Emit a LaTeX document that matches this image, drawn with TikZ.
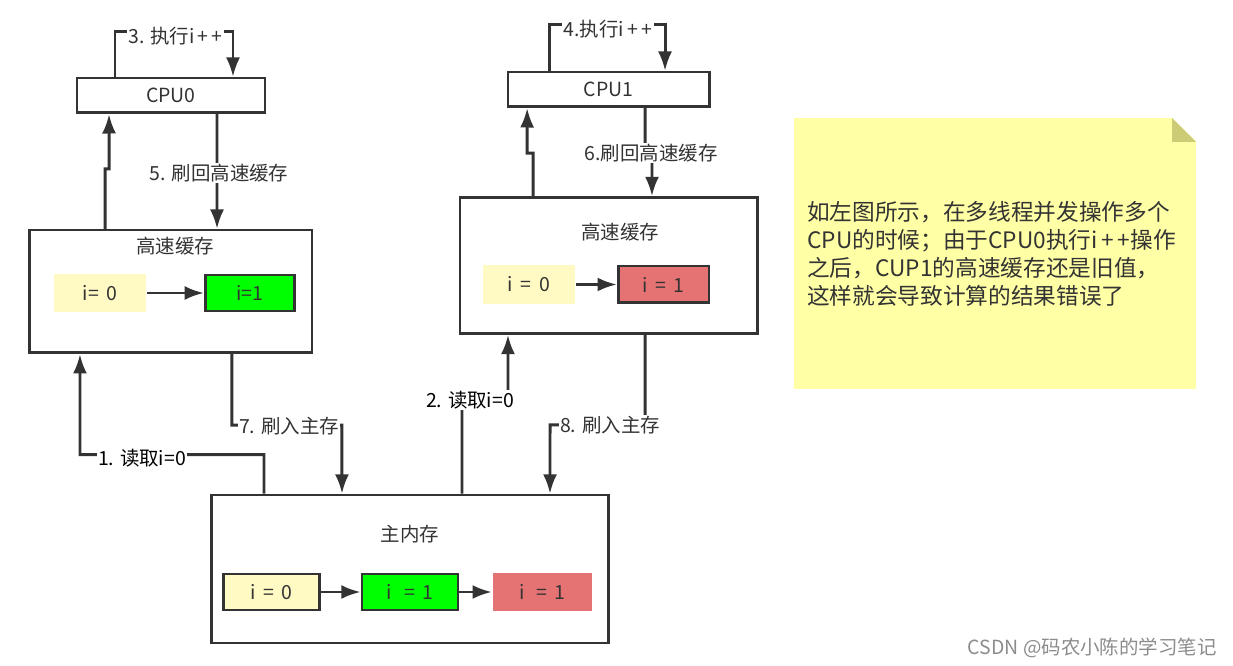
\documentclass[tikz,border=0pt]{standalone}
\usepackage{fontspec}
\setmainfont{Noto Sans CJK SC}
\usetikzlibrary{arrows.meta}
\definecolor{linegray}{HTML}{333333}
\definecolor{paleyellow}{HTML}{FFF9C4}
\definecolor{brightgreen}{HTML}{00FF00}
\definecolor{softred}{HTML}{E57373}
\definecolor{notefill}{HTML}{FFFFA6}
\definecolor{notefold}{HTML}{CCCC77}
\begin{document}
\begin{tikzpicture}[x=0.75pt,y=-0.75pt]
\tikzset{edge/.style = {-{Latex[length=14.5pt,width=10.5pt]}, line width=2.2pt, draw=linegray}}
\tikzset{box/.style = {shape=rectangle, draw=linegray, line width=2pt, text=linegray, font=\fontsize{14.6}{17}\selectfont, inner sep=0pt}}
\tikzset{value/.style = {box, draw=none}}
\tikzset{lab/.style = {fill=white, text=linegray, inner sep=1pt, font=\fontsize{14.6}{17}\selectfont}}
\tikzset{boxtitle/.style = {text=linegray, font=\fontsize{14.6}{17}\selectfont}}
\useasboundingbox (0,0) rectangle (1233,666);
% boxes
\node[box, minimum width=141pt, minimum height=26pt](cpu0) at (171,95.5) {CPU0};
\node[box, minimum width=151pt, minimum height=26pt](cpu1) at (608.5,89.5) {CPU1};
\node[box, minimum width=212pt, minimum height=92pt](cache0) at (170.5,291.5) {};
\node[box, minimum width=223pt, minimum height=102pt](cache1) at (608.5,265.5) {};
\node[box, minimum width=298pt, minimum height=111pt](mem) at (410,569) {};
\node[boxtitle](cachetext0) at (175,246) {高速缓存};
\node[boxtitle](cachetext1) at (620,232) {高速缓存};
\node[boxtitle](memtext) at (410,534) {主内存};
% values
\node[value, fill=paleyellow, minimum width=69pt, minimum height=28.5pt](a0) at (100,293) {i=\ \,0};
\node[box, fill=brightgreen, minimum width=67pt, minimum height=27pt](a1) at (250,293) {i=1};
\node[value, fill=paleyellow, minimum width=69pt, minimum height=29pt](b0) at (529,284.5) {i\ \,=\ \,0};
\node[box, fill=softred, minimum width=68pt, minimum height=27.5pt](b1) at (663.5,284.5) {i\ \,=\ \,1};
\node[box, fill=paleyellow, minimum width=72pt, minimum height=27pt](m0) at (271.5,592) {i\ \,=\ \,0};
\node[box, fill=brightgreen, minimum width=72pt, minimum height=27pt](m1) at (410,592) {i\ \ \,=\ \,1};
\node[value, fill=softred, minimum width=74pt, minimum height=28.5pt](m2) at (542.5,592) {i\ \ \,=\ \,1};
\draw[edge] (a0) -- (a1);
\draw[edge] (b0) -- (b1);
\draw[edge] (m0) -- (m1);
\draw[edge] (m1) -- (m2);
% connectors
\draw[edge] ([xshift=-42pt]cpu0.north) -- ++(0,-45) -- ++(118,0) -- ([xshift=46.5pt]cpu0.north);
\draw[edge] ([xshift=-44.6pt]cpu1.north) -- ++(0,-46) -- ++(116,0) -- ([xshift=42.4pt]cpu1.north);
\draw[edge] ([xshift=34.5pt]cpu0.south) -- ([xshift=34.9pt]cache0.north);
\draw[edge] ([xshift=-49pt]cache0.north) -- ++(0,-60) -- ++(4,0) -- ([xshift=-46.5pt]cpu0.south);
\draw[edge] ([xshift=27.4pt]cpu1.south) -- ++(0,46) -- ++(7,0) -- ([xshift=32.6pt]cache1.north);
\draw[edge] ([xshift=-56.6pt]cache1.north) -- ++(0,-43) -- ++(-6,0) -- ([xshift=-61pt]cpu1.south);
\draw[edge] ([xshift=-109.5pt]mem.north) -- ++(0,-39) -- ++(-184,0) -- ([xshift=-67.9pt]cache0.south);
\draw[edge] ([xshift=46pt]cache0.south) -- ++(0,71) -- ++(110,0) -- ([xshift=-51pt]mem.north);
\draw[edge] ([xshift=39pt]mem.north) -- ++(0,-95) -- ++(46,0) -- ([xshift=-75.4pt]cache1.south);
\draw[edge] ([xshift=27.4pt]cache1.south) -- ++(0,90) -- ++(-95,0) -- ([xshift=105pt]mem.north);
% labels
\node[lab](step3) at (175.5,36) {3. 执行i\,+\,+};
\node[lab](step4) at (608,29) {4.执行i\,+\,+};
\node[lab](step5) at (219,173) {5. 刷回高速缓存};
\node[lab](step6) at (651,153) {6.刷回高速缓存};
\node[lab](step7) at (289,426) {7. 刷入主存};
\node[lab](step8) at (610,425) {8. 刷入主存};
\node[lab, text=black](step1) at (142,458) {1. 读取i=0};
\node[lab, text=black](step2) at (470,400) {2. 读取i=0};
% note
\fill[notefill] (794,118) rectangle (1196,389);
\fill[white] (1172,118) -- (1197,118) -- (1197,142) -- cycle;
\fill[notefold] (1172,118) -- (1196,142) -- (1172,142) -- cycle;
\node[anchor=west, align=left, text=linegray, inner sep=0pt, font=\fontsize{17}{21}\selectfont](notetext) at (807,254) {如左图所示，在多线程并发操作多个\\CPU的时候；由于CPU0执行i\,+\,+操作\\之后，CUP1的高速缓存还是旧值，\\这样就会导致计算的结果错误了};
% mark
\node[anchor=east, text=black!45, inner sep=0pt, font=\fontsize{14.6}{17}\selectfont](mark) at (1217,648) {CSDN @码农小陈的学习笔记};
\end{tikzpicture}
\end{document}
